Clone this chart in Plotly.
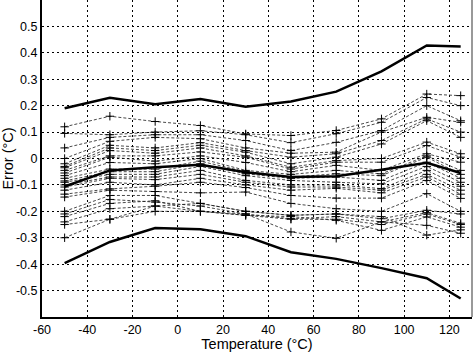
import plotly.graph_objects as go

temps = [-50, -30, -10, 10, 30, 50, 70, 90, 110, 125]

upper_bound = [0.19, 0.23, 0.205, 0.225, 0.196, 0.216, 0.253, 0.33, 0.428, 0.424]
mean_error = [-0.106, -0.045, -0.033, -0.024, -0.052, -0.07, -0.067, -0.043, -0.016, -0.055]
lower_bound = [-0.396, -0.316, -0.263, -0.268, -0.294, -0.355, -0.38, -0.415, -0.453, -0.53]

sensor_errors = [
    [0.12, 0.16, 0.14, 0.125, 0.093, 0.087, 0.106, 0.15, 0.244, 0.238],
    [0.095, 0.09, 0.10, 0.105, 0.09, 0.06, 0.094, 0.137, 0.231, 0.2],
    [0.04, 0.08, 0.09, 0.09, 0.068, 0.03, 0.061, 0.106, 0.2, 0.143],
    [0.0, 0.065, 0.08, 0.075, 0.04, 0.02, 0.024, 0.1, 0.156, 0.137],
    [-0.02, 0.05, 0.04, 0.06, 0.03, 0.005, 0.018, 0.068, 0.15, 0.1],
    [-0.03, 0.04, 0.03, 0.05, 0.024, -0.02, 0.005, 0.055, 0.143, 0.08],
    [-0.035, 0.03, 0.02, 0.04, 0.01, -0.033, -0.008, 0.0, 0.062, 0.018],
    [-0.045, 0.01, 0.01, 0.025, 0.005, -0.04, -0.014, -0.014, 0.049, 0.005],
    [-0.055, 0.005, -0.01, 0.01, -0.015, -0.05, -0.026, -0.045, 0.018, -0.014],
    [-0.065, -0.015, -0.02, 0.0, -0.045, -0.06, -0.045, -0.058, 0.01, -0.045],
    [-0.075, -0.04, -0.04, -0.01, -0.05, -0.07, -0.058, -0.065, 0.005, -0.06],
    [-0.085, -0.05, -0.05, -0.02, -0.058, -0.075, -0.07, -0.083, -0.014, -0.075],
    [-0.09, -0.06, -0.06, -0.03, -0.065, -0.083, -0.09, -0.096, -0.03, -0.09],
    [-0.1, -0.07, -0.07, -0.045, -0.083, -0.1, -0.1, -0.114, -0.045, -0.105],
    [-0.108, -0.075, -0.08, -0.06, -0.09, -0.108, -0.108, -0.12, -0.06, -0.12],
    [-0.12, -0.09, -0.1, -0.075, -0.1, -0.12, -0.113, -0.13, -0.07, -0.135],
    [-0.135, -0.115, -0.105, -0.09, -0.11, -0.14, -0.15, -0.15, -0.083, -0.151],
    [-0.146, -0.12, -0.125, -0.13, -0.127, -0.17, -0.19, -0.2, -0.133, -0.2],
    [-0.2, -0.14, -0.14, -0.17, -0.2, -0.215, -0.21, -0.228, -0.196, -0.21],
    [-0.21, -0.155, -0.165, -0.18, -0.21, -0.228, -0.22, -0.24, -0.205, -0.245],
    [-0.22, -0.17, -0.16, -0.2, -0.215, -0.22, -0.234, -0.272, -0.221, -0.26],
    [-0.24, -0.19, -0.18, -0.2, -0.21, -0.278, -0.302, -0.24, -0.253, -0.283],
    [-0.25, -0.23, -0.18, -0.17, -0.2, -0.215, -0.21, -0.22, -0.29, -0.27],
    [-0.3, -0.23, -0.2, -0.2, -0.215, -0.23, -0.23, -0.25, -0.21, -0.25],
]

x_ticks = [-60, -40, -20, 0, 20, 40, 60, 80, 100, 120]
y_ticks = [-0.5, -0.4, -0.3, -0.2, -0.1, 0, 0.1, 0.2, 0.3, 0.4, 0.5]
y_tick_labels = ["-0.5", "-0.4", "-0.3", "-0.2", "-0.1", "0", "0.1", "0.2", "0.3", "0.4", "0.5"]

fig = go.Figure()

for s in sensor_errors:
    fig.add_trace(go.Scatter(
        x=temps, y=s, mode="lines+markers",
        line=dict(color="#1a1a1a", width=0.8, dash="3px,2px"),
        marker=dict(symbol="cross-thin", size=6, line=dict(width=1, color="black")),
        showlegend=False, hoverinfo="skip"))

for s in [upper_bound, mean_error, lower_bound]:
    fig.add_trace(go.Scatter(
        x=temps, y=s, mode="lines",
        line=dict(color="black", width=2.5),
        showlegend=False, hoverinfo="skip"))

font = dict(family="Liberation Sans, Arial, sans-serif", size=12, color="black")

fig.update_layout(
    width=474, height=352,
    margin=dict(l=42, r=2, t=0, b=35),
    paper_bgcolor="white", plot_bgcolor="white",
    font=font,
    xaxis=dict(
        range=[-60, 130], tickvals=x_ticks, ticktext=[str(v) for v in x_ticks],
        showgrid=True, gridcolor="black", gridwidth=1, griddash="2px,3px",
        showline=True, linecolor="black", linewidth=2, zeroline=False,
        ticks="", ticklen=0, tickfont=dict(size=12.5),
        title=dict(text="Temperature (°C)", font=dict(size=14.5), standoff=1),
    ),
    yaxis=dict(
        range=[-0.6, 0.6], tickvals=y_ticks, ticktext=y_tick_labels,
        showgrid=True, gridcolor="black", gridwidth=1, griddash="2px,3px",
        showline=True, linecolor="black", linewidth=2, zeroline=False,
        ticks="", ticklen=0, tickfont=dict(size=12.5),
        title=dict(text="Error (°C)", font=dict(size=14.5), standoff=4),
    ),
    shapes=[dict(type="line", xref="paper", yref="paper", x0=1, x1=1, y0=0, y1=1,
                 line=dict(color="#999999", width=2))],
)

fig.write_html("out.html")
